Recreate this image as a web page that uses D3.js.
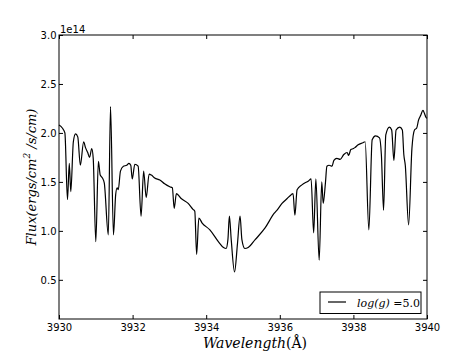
<!DOCTYPE html>
<html>
<head>
<meta charset="utf-8">
<script src="https://cdn.jsdelivr.net/npm/d3@7"></script>
<style>
  body { margin: 0; background: #fff; }
  svg { display: block; }
  .tick text { font-family: "DejaVu Sans", sans-serif; font-size: 10px; fill: #000; }
</style>
</head>
<body>
<div id="chart"></div>
<script>
/* spectrum around Ca II K line */

const wavelength = [
  3930.00, 3930.09, 3930.16, 3930.23, 3930.28, 3930.32, 3930.39, 3930.45, 3930.51, 3930.58,
  3930.67, 3930.72, 3930.78, 3930.83, 3930.89, 3930.93, 3931.00, 3931.07, 3931.12, 3931.18,
  3931.23, 3931.34, 3931.40, 3931.48, 3931.54, 3931.58, 3931.61, 3931.67, 3931.75, 3931.84,
  3931.90, 3931.95, 3931.99, 3932.06, 3932.15, 3932.23, 3932.30, 3932.37, 3932.45, 3932.51,
  3932.60, 3932.74, 3932.87, 3933.01, 3933.08, 3933.13, 3933.19, 3933.32, 3933.51, 3933.64,
  3933.69, 3933.74, 3933.80, 3933.89, 3934.10, 3934.33, 3934.47, 3934.54, 3934.59, 3934.63,
  3934.68, 3934.77, 3934.85, 3934.92, 3934.97, 3935.05, 3935.14, 3935.33, 3935.60, 3935.85,
  3935.92, 3936.06, 3936.20, 3936.31, 3936.36, 3936.41, 3936.47, 3936.60, 3936.78, 3936.85,
  3936.92, 3936.98, 3937.07, 3937.14, 3937.18, 3937.24, 3937.28, 3937.34, 3937.42, 3937.47,
  3937.55, 3937.64, 3937.74, 3937.83, 3937.87, 3937.93, 3938.00, 3938.04, 3938.13, 3938.26,
  3938.32, 3938.42, 3938.51, 3938.60, 3938.71, 3938.76, 3938.82, 3938.88, 3938.98, 3939.04,
  3939.10, 3939.16, 3939.26, 3939.33, 3939.37, 3939.41, 3939.50, 3939.59, 3939.66, 3939.72,
  3939.77, 3939.83, 3939.89, 3939.93, 3939.97, 3940.00
];

// flux in units of 1e14
const flux = [
  2.08, 2.05, 2.00, 1.32, 1.69, 1.40, 1.91, 1.99, 1.96, 1.67,
  1.91, 1.85, 1.80, 1.75, 1.84, 1.74, 0.89, 1.71, 1.57, 1.54,
  1.49, 0.96, 2.27, 0.96, 1.37, 1.44, 1.42, 1.61, 1.66, 1.67,
  1.69, 1.67, 1.53, 1.68, 1.66, 1.15, 1.61, 1.34, 1.58, 1.57,
  1.54, 1.52, 1.48, 1.45, 1.44, 1.23, 1.38, 1.33, 1.28, 1.22,
  1.20, 0.76, 1.13, 1.08, 1.01, 0.89, 0.83, 0.82, 0.91, 1.15,
  0.91, 0.58, 0.87, 1.15, 0.91, 0.82, 0.83, 0.91, 1.03, 1.18,
  1.21, 1.28, 1.33, 1.37, 1.38, 1.16, 1.42, 1.47, 1.51, 1.53,
  0.98, 1.53, 0.70, 1.50, 1.28, 1.49, 1.66, 1.67, 1.66, 1.72,
  1.74, 1.73, 1.78, 1.80, 1.77, 1.83, 1.84, 1.85, 1.88, 1.90,
  1.91, 1.01, 1.93, 1.97, 1.95, 1.78, 1.21, 1.98, 2.06, 2.03,
  1.72, 2.03, 2.06, 2.03, 1.78, 1.67, 1.06, 1.84, 2.03, 2.05,
  2.13, 2.18, 2.23, 2.20, 2.16, 2.15
];

const xTicks = [3930, 3932, 3934, 3936, 3938, 3940];
const yTicks = [0.5, 1.0, 1.5, 2.0, 2.5, 3.0];
const legendLabel = "log(g)";
const legendValue = " =5.0";

const width = 474, height = 355;
const margin = { top: 35, right: 47, bottom: 36, left: 59 };

const svg = d3.select("#chart").append("svg")
  .attr("width", width)
  .attr("height", height);

const x = d3.scaleLinear()
  .domain([3930, 3940])
  .range([margin.left, width - margin.right]);

const y = d3.scaleLinear()
  .domain([0.1, 3.0])
  .range([height - margin.bottom, margin.top]);

const points = wavelength.map((w, i) => ({ w: w, f: flux[i] }));

// spectrum line
svg.append("path")
  .datum(points)
  .attr("d", d3.line().x(d => x(d.w)).y(d => y(d.f)).curve(d3.curveMonotoneX))
  .attr("fill", "none")
  .attr("stroke", "#000")
  .attr("stroke-width", 1.2)
  .attr("stroke-linejoin", "round");

// axes, ticks pointing inward on all four sides
const tickLen = 4;

svg.append("g")
  .attr("transform", `translate(0,${y.range()[0]})`)
  .call(d3.axisBottom(x).tickValues(xTicks).tickFormat(d3.format("d"))
    .tickSizeInner(-tickLen).tickSizeOuter(0).tickPadding(4.5))
  .call(g => g.select(".domain").remove());

svg.append("g")
  .attr("transform", `translate(0,${y.range()[1]})`)
  .call(d3.axisTop(x).tickValues(xTicks).tickFormat("")
    .tickSizeInner(-tickLen).tickSizeOuter(0))
  .call(g => g.select(".domain").remove());

svg.append("g")
  .attr("transform", `translate(${x.range()[0]},0)`)
  .call(d3.axisLeft(y).tickValues(yTicks).tickFormat(d3.format(".1f"))
    .tickSizeInner(-tickLen).tickSizeOuter(0).tickPadding(2.5))
  .call(g => g.select(".domain").remove());

svg.append("g")
  .attr("transform", `translate(${x.range()[1]},0)`)
  .call(d3.axisRight(y).tickValues(yTicks).tickFormat("")
    .tickSizeInner(-tickLen).tickSizeOuter(0))
  .call(g => g.select(".domain").remove());

svg.selectAll(".tick line").attr("stroke", "#000");

// frame
svg.append("rect")
  .attr("x", x.range()[0])
  .attr("y", y.range()[1])
  .attr("width", x.range()[1] - x.range()[0])
  .attr("height", y.range()[0] - y.range()[1])
  .attr("fill", "none")
  .attr("stroke", "#000")
  .attr("stroke-width", 1);

// offset text
svg.append("text")
  .attr("x", x.range()[0] + 1)
  .attr("y", y.range()[1] - 2)
  .attr("font-family", "DejaVu Sans, sans-serif")
  .attr("font-size", 10)
  .text("1e14");

// x label
const xLab = svg.append("text")
  .attr("x", 255)
  .attr("y", 348)
  .attr("text-anchor", "middle")
  .attr("font-family", "DejaVu Serif, serif")
  .attr("font-size", 14);
xLab.append("tspan").attr("font-style", "italic").text("Wavelength");
xLab.append("tspan").text("(Å)");

// y label
const yLab = svg.append("text")
  .attr("transform", `translate(36,${(y.range()[0] + y.range()[1]) / 2}) rotate(-90)`)
  .attr("text-anchor", "middle")
  .attr("font-family", "DejaVu Serif, serif")
  .attr("font-style", "italic")
  .attr("font-size", 13);
yLab.append("tspan").text("Flux(ergs/cm");
yLab.append("tspan").attr("font-size", 9).attr("dy", -6).text("2");
yLab.append("tspan").attr("dy", 6).text(" /s/cm)");

// legend
const legend = svg.append("g").attr("transform", "translate(320,292)");
legend.append("rect")
  .attr("width", 101).attr("height", 21.5)
  .attr("fill", "#fff").attr("stroke", "#000").attr("stroke-width", 1);
legend.append("line")
  .attr("x1", 8).attr("x2", 26).attr("y1", 10).attr("y2", 10)
  .attr("stroke", "#000").attr("stroke-width", 1.2);
const legText = legend.append("text")
  .attr("x", 37).attr("y", 14.5)
  .attr("font-family", "DejaVu Serif, serif")
  .attr("font-size", 11);
legText.append("tspan").attr("font-style", "italic").text(legendLabel);
legText.append("tspan").text(legendValue);
</script>
</body>
</html>
